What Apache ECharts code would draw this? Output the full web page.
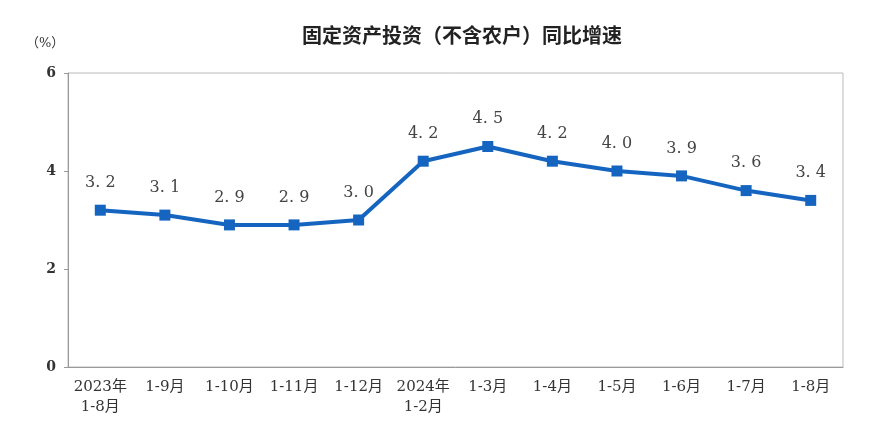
<!DOCTYPE html>
<html><head><meta charset="utf-8">
<script src="https://cdn.jsdelivr.net/npm/echarts@6/dist/echarts.min.js"></script>
<style>html,body{margin:0;padding:0;background:#fff}#c{width:870px;height:436px}</style>
</head><body><div id="c"></div>
<script>
const categories = ['2023年\n1-8月','1-9月','1-10月','1-11月','1-12月','2024年\n1-2月','1-3月','1-4月','1-5月','1-6月','1-7月','1-8月'];
const values = [3.2,3.1,2.9,2.9,3.0,4.2,4.5,4.2,4.0,3.9,3.6,3.4];
const yTicks = [0,2,4,6];
const serif = '"DejaVu Serif", "Liberation Serif", "Noto Sans CJK SC", serif';
const chart = echarts.init(document.getElementById('c'));
chart.setOption({
  animation:false,
  title:{text:'固定资产投资（不含农户）同比增速',left:457,top:20,textAlign:'center',
    textStyle:{fontFamily:'"Noto Sans CJK SC"',fontSize:20,fontWeight:'bold',color:'#222'}},
  graphic:[{type:'text',left:26,top:37,style:{text:'（%）',font:'13px '+serif,fill:'#333'}},
    {type:'rect',shape:{x:68,y:73,width:775,height:294},style:{fill:'none',stroke:'#bbb',lineWidth:1},z:-1}],
  grid:{left:68,right:27,top:73,bottom:69},
  xAxis:{type:'category',data:categories,boundaryGap:true,
    axisLine:{lineStyle:{color:'#999'}},
    axisTick:{inside:true,length:5,lineStyle:{color:'#999'}},
    axisLabel:{interval:0,color:'#333',fontFamily:serif,fontSize:15,lineHeight:20,margin:10}},
  yAxis:{type:'value',min:0,max:6,interval:2,
    axisLine:{show:true,lineStyle:{color:'#999'}},
    axisTick:{show:true,length:4,lineStyle:{color:'#999'}},
    splitLine:{show:false},
    axisLabel:{color:'#333',fontFamily:serif,fontSize:14,fontWeight:'bold',margin:12,
      formatter:v=>yTicks.includes(v)?String(v):''}},
  series:[{type:'line',data:values,symbol:'rect',symbolSize:11,
    lineStyle:{color:'#1565c0',width:4},itemStyle:{color:'#1565c0'},
    label:{show:true,position:'top',distance:14,color:'#444',fontFamily:serif,fontSize:16,
      formatter:p=>p.value.toFixed(1).replace('.','. ')}}]
});
</script></body></html>
